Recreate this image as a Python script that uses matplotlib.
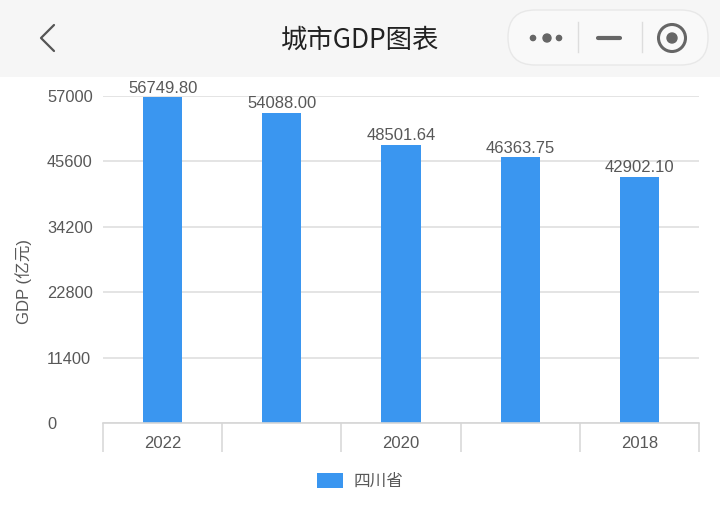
import numpy as np
import matplotlib.pyplot as plt
from matplotlib.patches import Rectangle, FancyBboxPatch, Circle

plt.rcParams['font.family'] = ['Liberation Sans', 'Noto Sans CJK SC']

# data
years = ['2022', '2021', '2020', '2019', '2018']
gdp = [56749.80, 54088.00, 48501.64, 46363.75, 42902.10]
shown_labels = ['2022', '', '2020', '', '2018']   # only every other year is labelled
yticks = [0, 11400, 22800, 34200, 45600, 57000]
series_name = '四川省'
title = '城市GDP图表'

bar_color = '#3a96f0'
text_color = '#585858'

fig = plt.figure(figsize=(7.2, 5.05), dpi=100, facecolor='white')

# background layer in pixel coordinates: the mini-program header bar
bg = fig.add_axes([0, 0, 1, 1], zorder=-1)
bg.set_xlim(0, 720)
bg.set_ylim(505, 0)
bg.axis('off')
bg.add_patch(Rectangle((0, 0), 720, 77, facecolor='#f6f6f6', edgecolor='none'))
bg.plot([54, 41, 54], [25, 38, 51], color='#555555', lw=1.6, solid_capstyle='round')
bg.text(360, 40, title, ha='center', va='center', fontsize=19, color='#222222',
        family=['Noto Sans CJK SC', 'DejaVu Sans'])
bg.add_patch(FancyBboxPatch((508, 10), 200, 55, boxstyle='round,pad=0,rounding_size=27',
                            facecolor='#f9f9f9', edgecolor='#e8e8e8', lw=1))
for cx, r in [(533, 2.6), (547, 4), (559, 2.6)]:
    bg.add_patch(Circle((cx, 38), r, color='#666666'))
bg.plot([578, 578], [22, 52], color='#dddddd', lw=1)
bg.plot([642, 642], [22, 52], color='#dddddd', lw=1)
bg.plot([598, 620], [38, 38], color='#666666', lw=3, solid_capstyle='round')
bg.add_patch(Circle((672, 38), 13.5, facecolor='none', edgecolor='#666666', lw=2.2))
bg.add_patch(Circle((672, 38), 5, color='#666666'))

# main chart
ax = fig.add_axes([103 / 720, 1 - 423 / 505, 596 / 720, 327 / 505])
x = np.arange(len(years))
bars = ax.bar(x, gdp, width=0.33, color=bar_color, label=series_name, zorder=2)
ax.bar_label(bars, labels=[f'{v:.2f}' for v in gdp], padding=1, fontsize=12, color=text_color)

ax.set_xlim(-0.5, len(years) - 0.5)
ax.set_ylim(0, 57000)
ax.set_yticks(yticks)
ax.grid(axis='y', color='#e2e2e2', lw=1.3)
ax.set_axisbelow(True)
for s in ['top', 'right', 'left']:
    ax.spines[s].set_visible(False)
ax.spines['bottom'].set_color('#d6d6d6')
ax.spines['bottom'].set_linewidth(1.2)

ax.tick_params(axis='y', length=0, pad=40.3, labelsize=11.8, labelcolor=text_color)
for t in ax.get_yticklabels():
    t.set_horizontalalignment('left')

ax.set_xticks(x, shown_labels)
ax.set_xticks(np.arange(-0.5, len(years), 1), minor=True)
ax.tick_params(axis='x', which='major', length=0, pad=9, labelsize=12, labelcolor=text_color)
ax.tick_params(axis='x', which='minor', length=21, width=1.2, color='#d9d9d9')

fig.text(24 / 720, 1 - 282 / 505, 'GDP (亿元)', rotation=90, ha='center', va='center',
         fontsize=12, color=text_color)

fig.legend(loc='center', bbox_to_anchor=(0.5, 1 - 481 / 505), frameon=False,
           fontsize=12, handlelength=1.6, handleheight=1.0, handletextpad=0.6,
           labelcolor=text_color)

plt.savefig('out.png', dpi=100)
